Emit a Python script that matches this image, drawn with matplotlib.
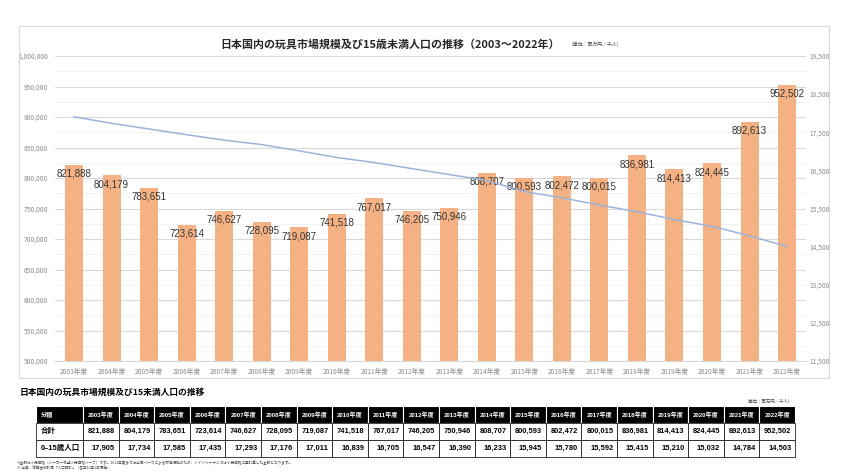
import matplotlib
matplotlib.use('Agg')
import matplotlib.pyplot as plt
import numpy as np
from matplotlib.patches import Rectangle
from matplotlib.ticker import MultipleLocator, FuncFormatter
from matplotlib import font_manager

years = list(range(2003, 2023))
year_labels = [f'{y}年度' for y in years]
market = [821888, 804179, 783651, 723614, 746627, 728095, 719087, 741518, 767017, 746205,
          750946, 808707, 800593, 802472, 800015, 836981, 814413, 824445, 892613, 952502]
population = [17905, 17734, 17585, 17435, 17293, 17176, 17011, 16839, 16705, 16547,
              16390, 16233, 15945, 15780, 15592, 15415, 15210, 15032, 14784, 14503]

title = '日本国内の玩具市場規模及び15歳未満人口の推移（2003～2022年）'
unit = '（単位：百万円／千人）'
table_title = '日本国内の玩具市場規模及び15未満人口の推移'
row_names = ['合計', '0–15歳人口']
notes = ['※金額は小売価格（メーカー希望小売価格ベース）です。2013年度までは出荷ベースによる市場規模のため、トイジャーナルでは小売価格に再計算した金額となります。',
         '※ 出典：総務省統計局「人口推計」（各年10月1日現在）']

plt.rcParams['font.family'] = ['Noto Sans CJK JP', 'DejaVu Sans']

installed = {f.name for f in font_manager.fontManager.ttflist}
num_font = 'Liberation Sans Narrow' if 'Liberation Sans Narrow' in installed else 'Liberation Sans'

W, H = 862, 475
fig = plt.figure(figsize=(W / 100, H / 100), dpi=100)


def box(x0, y0, x1, y1):
    # pixel box (y from top) -> figure fraction
    return [x0 / W, 1 - y1 / H, (x1 - x0) / W, (y1 - y0) / H]


# chart frame
fig.add_artist(Rectangle((19 / W, 1 - 378 / H), 810 / W, 352 / H, transform=fig.transFigure,
                         fill=False, ec='#D9D9D9', lw=0.8))
fig.text(220 / W, 1 - 44 / H, title, fontsize=7.9, fontweight='bold', color='#262626',
         ha='left', va='center')
fig.text(569 / W, 1 - 44 / H, unit, fontsize=3.5, color='#404040', ha='left', va='center')

ax = fig.add_axes(box(55.3, 56, 805.8, 361))
x = np.arange(len(years))
ax.bar(x, market, width=0.48, color='#F4B183', zorder=2)
ax.set_xlim(-0.5, len(years) - 0.5)
ax.set_ylim(500000, 1000000)
ax.yaxis.set_major_locator(MultipleLocator(50000))
ax.yaxis.set_minor_locator(MultipleLocator(25000))
ax.yaxis.set_major_formatter(FuncFormatter(lambda v, p: f'{int(v):,}'))
ax.grid(axis='y', which='major', color='#D9D9D9', lw=0.8, zorder=0)
ax.grid(axis='y', which='minor', color='#F0F0F0', lw=0.6, zorder=0)
ax.set_axisbelow(True)
ax.set_xticks(x)
ax.set_xticklabels(year_labels)
ax.tick_params(axis='both', which='both', length=0, labelsize=4.8, labelcolor='#8C8C8C')
ax.tick_params(axis='y', pad=5)
ax.tick_params(axis='x', pad=5)
for s in ['top', 'left', 'right']:
    ax.spines[s].set_visible(False)
ax.spines['bottom'].set_color('#D9D9D9')
ax.spines['bottom'].set_linewidth(0.8)

for i, v in enumerate(market):
    ax.annotate(f'{v:,}', (i, v), xytext=(0, -9), textcoords='offset pixels',
                ha='center', va='center', fontsize=7, color='#333333', family=num_font, zorder=4)

ax2 = ax.twinx()
ax2.plot(x, population, color='#9DB3DB', lw=1.1)
ax2.set_ylim(11500, 19500)
ax2.set_yticks(np.arange(11500, 19501, 1000))
ax2.yaxis.set_major_formatter(FuncFormatter(lambda v, p: f'{int(v):,}'))
ax2.tick_params(axis='y', length=0, labelsize=4.8, labelcolor='#8C8C8C', pad=3)
for s in ax2.spines.values():
    s.set_visible(False)

# table section
fig.text(20 / W, 1 - 392 / H, table_title, fontsize=6.3, fontweight='bold', color='black',
         ha='left', va='center')
fig.text(793 / W, 1 - 401 / H, unit, fontsize=3.2, color='#404040', ha='right', va='center')

tax = fig.add_axes(box(17, 406, 795, 457))
tax.axis('off')
cell_text = [[f'{v:,}' for v in market], [f'{v:,}' for v in population]]
first_w = 66 / 778
col_w = (1 - first_w) / len(years)
tbl = tax.table(cellText=cell_text, rowLabels=row_names, colLabels=year_labels,
                colWidths=[col_w] * len(years), cellLoc='right', rowLoc='left',
                colLoc='center', bbox=[first_w, 0, 1 - first_w, 1])
tbl.add_cell(0, -1, first_w, tbl[0, 0].get_height(), text='分類', loc='left')
tbl.auto_set_font_size(False)
for (r, c), cell in tbl.get_celld().items():
    if c == -1:
        cell.set_width(first_w)
    if r == 0:
        cell.set_facecolor('black')
        cell.set_edgecolor('white')
        cell.set_linewidth(0.8)
        cell.get_text().set_color('white')
        cell.get_text().set_fontsize(4.4)
    else:
        cell.set_facecolor('white')
        cell.set_edgecolor('#222222')
        cell.set_linewidth(0.6)
        cell.get_text().set_color('black')
        cell.get_text().set_fontsize(5.4)
    cell.get_text().set_fontweight('bold')
    cell.get_text().set_family(['Liberation Sans', 'Noto Sans CJK JP'])

fig.text(17 / W, 1 - 463 / H, notes[0], fontsize=2.6, color='#404040', ha='left', va='center')
fig.text(17 / W, 1 - 468 / H, notes[1], fontsize=2.6, color='#404040', ha='left', va='center')

fig.savefig('out.png', dpi=100)
